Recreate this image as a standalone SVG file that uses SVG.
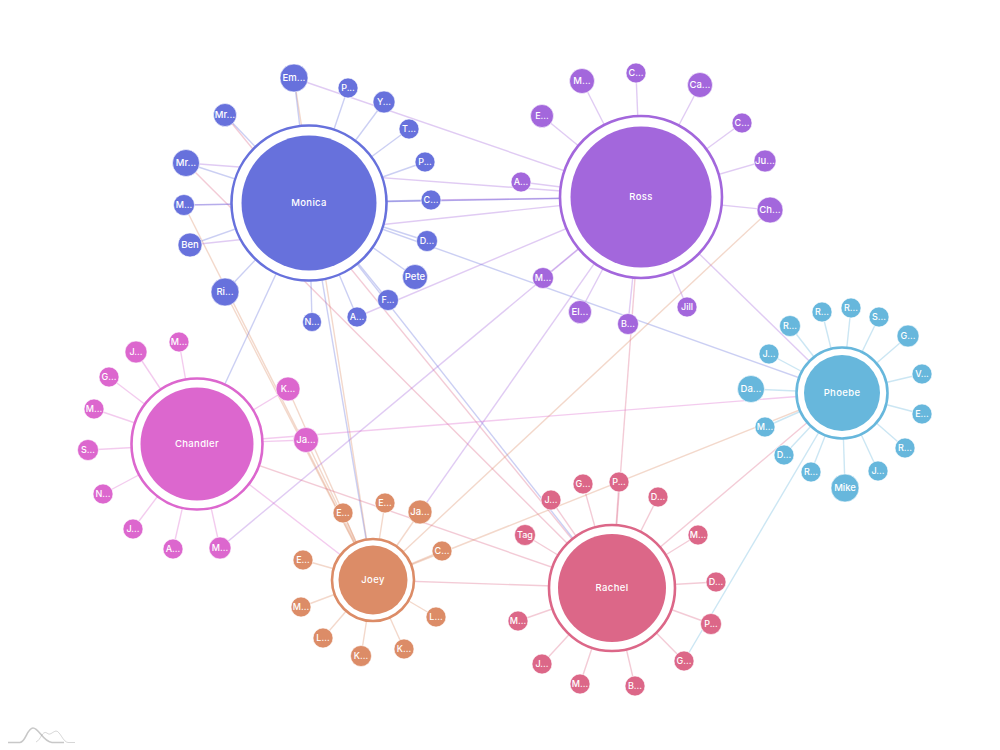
<svg xmlns="http://www.w3.org/2000/svg" width="1000" height="750" viewBox="0 0 1000 750">
<style>
text{font-family:"Inter","Liberation Sans",sans-serif;font-size:9.5px;font-weight:500;fill:#fff;text-anchor:middle;transform:translateY(-.7px)}
#monica text,#ross text,#chandler text,#joey text,#rachel text,#phoebe text{letter-spacing:.35px}
.k{font-size:9px}
line{stroke-width:1.4;stroke-opacity:.34;fill:none}
.lm{stroke:#6771dc}.lr{stroke:#a367dc}.lc{stroke:#dc67ce}.lj{stroke:#dc8c67}.lh{stroke:#dc6788}.lp{stroke:#67b7dc}
.fm{fill:#6771dc}.fr{fill:#a367dc}.fc{fill:#dc67ce}.fj{fill:#dc8c67}.fh{fill:#dc6788}.fp{fill:#67b7dc}
.s circle{stroke:#fff;stroke-opacity:.6;stroke-width:1}
.ring{fill:#fff;stroke-width:2.6}
.rm{stroke:#6771dc}.rr{stroke:#a367dc}.rc{stroke:#dc67ce}.rj{stroke:#dc8c67}.rh{stroke:#dc6788}.rp{stroke:#67b7dc}
</style>
<g id="connectors">
<line class="lr" x1="294" y1="78" x2="641" y2="197"/>
<line class="lj" x1="294" y1="78" x2="373" y2="580"/>
<line class="lh" x1="225" y1="115" x2="612" y2="588"/>
<line class="lr" x1="186" y1="163" x2="641" y2="197"/>
<line class="lh" x1="186" y1="163" x2="612" y2="588"/>
<line class="lj" x1="184" y1="205" x2="373" y2="580"/>
<line class="lr" x1="184" y1="205" x2="641" y2="197"/>
<line class="lr" x1="431" y1="200" x2="641" y2="197"/>
<line class="lr" x1="190" y1="245" x2="641" y2="197"/>
<line class="lj" x1="225" y1="292" x2="373" y2="580"/>
<line class="lj" x1="288" y1="389" x2="373" y2="580"/>
<line class="lj" x1="306" y1="440" x2="373" y2="580"/>
<line class="lr" x1="357" y1="317" x2="641" y2="197"/>
<line class="lm" x1="309" y1="203" x2="612" y2="588"/>
<line class="lm" x1="309" y1="203" x2="373" y2="580"/>
<line class="lm" x1="309" y1="203" x2="197" y2="444"/>
<line class="lm" x1="309" y1="203" x2="842" y2="393"/>
<line class="lm" x1="309" y1="203" x2="641" y2="197"/>
<line class="lr" x1="641" y1="197" x2="842" y2="393"/>
<line class="lr" x1="220" y1="548" x2="641" y2="197"/>
<line class="lr" x1="420" y1="512" x2="641" y2="197"/>
<line class="lh" x1="641" y1="197" x2="612" y2="588"/>
<line class="lj" x1="770" y1="210" x2="373" y2="580"/>
<line class="lh" x1="373" y1="580" x2="612" y2="588"/>
<line class="lh" x1="197" y1="444" x2="612" y2="588"/>
<line class="lc" x1="197" y1="444" x2="373" y2="580"/>
<line class="lc" x1="197" y1="444" x2="842" y2="393"/>
<line class="lj" x1="373" y1="580" x2="842" y2="393"/>
<line class="lh" x1="612" y1="588" x2="842" y2="393"/>
<line class="lp" x1="684" y1="661" x2="842" y2="393"/>
<line class="lm" x1="309" y1="203" x2="294" y2="78"/><line class="lm" x1="309" y1="203" x2="348" y2="88"/><line class="lm" x1="309" y1="203" x2="384" y2="102"/><line class="lm" x1="309" y1="203" x2="409" y2="129"/><line class="lm" x1="309" y1="203" x2="425" y2="162"/><line class="lm" x1="309" y1="203" x2="431" y2="200"/><line class="lm" x1="309" y1="203" x2="427" y2="241"/><line class="lm" x1="309" y1="203" x2="415" y2="277"/><line class="lm" x1="309" y1="203" x2="388" y2="300"/><line class="lm" x1="309" y1="203" x2="357" y2="317"/><line class="lm" x1="309" y1="203" x2="312" y2="322"/><line class="lm" x1="309" y1="203" x2="225" y2="292"/><line class="lm" x1="309" y1="203" x2="190" y2="245"/><line class="lm" x1="309" y1="203" x2="184" y2="205"/><line class="lm" x1="309" y1="203" x2="186" y2="163"/><line class="lm" x1="309" y1="203" x2="225" y2="115"/>
<line class="lr" x1="641" y1="197" x2="542" y2="116"/><line class="lr" x1="641" y1="197" x2="582" y2="81"/><line class="lr" x1="641" y1="197" x2="636" y2="73"/><line class="lr" x1="641" y1="197" x2="700" y2="85"/><line class="lr" x1="641" y1="197" x2="742" y2="123"/><line class="lr" x1="641" y1="197" x2="765" y2="161"/><line class="lr" x1="641" y1="197" x2="770" y2="210"/><line class="lr" x1="641" y1="197" x2="687" y2="307"/><line class="lr" x1="641" y1="197" x2="628" y2="324"/><line class="lr" x1="641" y1="197" x2="580" y2="312"/><line class="lr" x1="641" y1="197" x2="543" y2="278"/><line class="lr" x1="641" y1="197" x2="521" y2="182"/>
<line class="lc" x1="197" y1="444" x2="179" y2="342"/><line class="lc" x1="197" y1="444" x2="136" y2="352"/><line class="lc" x1="197" y1="444" x2="109" y2="377"/><line class="lc" x1="197" y1="444" x2="94" y2="409"/><line class="lc" x1="197" y1="444" x2="88" y2="450"/><line class="lc" x1="197" y1="444" x2="103" y2="494"/><line class="lc" x1="197" y1="444" x2="133" y2="529"/><line class="lc" x1="197" y1="444" x2="173" y2="549"/><line class="lc" x1="197" y1="444" x2="220" y2="548"/><line class="lc" x1="197" y1="444" x2="306" y2="440"/><line class="lc" x1="197" y1="444" x2="288" y2="389"/>
<line class="lj" x1="373" y1="580" x2="343" y2="513"/><line class="lj" x1="373" y1="580" x2="385" y2="503"/><line class="lj" x1="373" y1="580" x2="420" y2="512"/><line class="lj" x1="373" y1="580" x2="442" y2="551"/><line class="lj" x1="373" y1="580" x2="436" y2="617"/><line class="lj" x1="373" y1="580" x2="404" y2="649"/><line class="lj" x1="373" y1="580" x2="361" y2="656"/><line class="lj" x1="373" y1="580" x2="323" y2="638"/><line class="lj" x1="373" y1="580" x2="301" y2="607"/><line class="lj" x1="373" y1="580" x2="303" y2="560"/>
<line class="lh" x1="612" y1="588" x2="619" y2="482"/><line class="lh" x1="612" y1="588" x2="583" y2="484"/><line class="lh" x1="612" y1="588" x2="551" y2="500"/><line class="lh" x1="612" y1="588" x2="525" y2="535"/><line class="lh" x1="612" y1="588" x2="658" y2="497"/><line class="lh" x1="612" y1="588" x2="698" y2="535"/><line class="lh" x1="612" y1="588" x2="716" y2="582"/><line class="lh" x1="612" y1="588" x2="711" y2="624"/><line class="lh" x1="612" y1="588" x2="684" y2="661"/><line class="lh" x1="612" y1="588" x2="635" y2="686"/><line class="lh" x1="612" y1="588" x2="580" y2="684"/><line class="lh" x1="612" y1="588" x2="542" y2="664"/><line class="lh" x1="612" y1="588" x2="518" y2="621"/>
<line class="lp" x1="842" y1="393" x2="790" y2="326"/><line class="lp" x1="842" y1="393" x2="822" y2="312"/><line class="lp" x1="842" y1="393" x2="851" y2="308"/><line class="lp" x1="842" y1="393" x2="879" y2="317"/><line class="lp" x1="842" y1="393" x2="908" y2="336"/><line class="lp" x1="842" y1="393" x2="922" y2="374"/><line class="lp" x1="842" y1="393" x2="922" y2="414"/><line class="lp" x1="842" y1="393" x2="905" y2="448"/><line class="lp" x1="842" y1="393" x2="878" y2="471"/><line class="lp" x1="842" y1="393" x2="845" y2="488"/><line class="lp" x1="842" y1="393" x2="811" y2="472"/><line class="lp" x1="842" y1="393" x2="784" y2="455"/><line class="lp" x1="842" y1="393" x2="765" y2="427"/><line class="lp" x1="842" y1="393" x2="751" y2="389"/><line class="lp" x1="842" y1="393" x2="769" y2="354"/>
</g>
<g id="monica"><circle class="ring rm" cx="309" cy="203" r="77.5"/><circle class="fm" cx="309" cy="203" r="67.5"/><text x="309" y="206.5">Monica</text></g>
<g id="monica-children" class="s">
<g id="m1"><circle class="fm" cx="294" cy="78" r="14"/><text x="294" y="81.5">Em...</text></g>
<g id="m2"><circle class="fm" cx="348" cy="88" r="10"/><text class="k" x="348" y="91.5">P...</text></g>
<g id="m3"><circle class="fm" cx="384" cy="102" r="11"/><text class="k" x="384" y="105.5">Y...</text></g>
<g id="m4"><circle class="fm" cx="409" cy="129" r="10"/><text class="k" x="409" y="132.5">T...</text></g>
<g id="m5"><circle class="fm" cx="425" cy="162" r="10"/><text class="k" x="425" y="165.5">P...</text></g>
<g id="m6"><circle class="fm" cx="431" cy="200" r="10"/><text class="k" x="431" y="203.5">C...</text></g>
<g id="m7"><circle class="fm" cx="427" cy="241" r="10.5"/><text class="k" x="427" y="244.5">D...</text></g>
<g id="m8"><circle class="fm" cx="415" cy="277" r="12.5"/><text x="415" y="280.5">Pete</text></g>
<g id="m9"><circle class="fm" cx="388" cy="300" r="10.5"/><text class="k" x="388" y="303.5">F...</text></g>
<g id="m10"><circle class="fm" cx="357" cy="317" r="10"/><text class="k" x="357" y="320.5">A...</text></g>
<g id="m11"><circle class="fm" cx="312" cy="322" r="9.5"/><text class="k" x="312" y="325.5">N...</text></g>
<g id="m12"><circle class="fm" cx="225" cy="292" r="14"/><text x="225" y="295.5">Ri...</text></g>
<g id="m13"><circle class="fm" cx="190" cy="245" r="12"/><text x="190" y="248.5">Ben</text></g>
<g id="m14"><circle class="fm" cx="184" cy="205" r="10.5"/><text class="k" x="184" y="208.5">M...</text></g>
<g id="m15"><circle class="fm" cx="186" cy="163" r="13.5"/><text x="186" y="166.5">Mr...</text></g>
<g id="m16"><circle class="fm" cx="225" cy="115" r="11.5"/><text x="225" y="118.5">Mr...</text></g>
</g>
<g id="ross"><circle class="ring rr" cx="641" cy="197" r="81"/><circle class="fr" cx="641" cy="197" r="70.5"/><text x="641" y="200.5">Ross</text></g>
<g id="ross-children" class="s">
<g id="r1"><circle class="fr" cx="542" cy="116" r="11.5"/><text class="k" x="542" y="119.5">E...</text></g>
<g id="r2"><circle class="fr" cx="582" cy="81" r="12.5"/><text x="582" y="84.5">M...</text></g>
<g id="r3"><circle class="fr" cx="636" cy="73" r="10"/><text class="k" x="636" y="76.5">C...</text></g>
<g id="r4"><circle class="fr" cx="700" cy="85" r="12.5"/><text x="700" y="88.5">Ca...</text></g>
<g id="r5"><circle class="fr" cx="742" cy="123" r="10"/><text class="k" x="742" y="126.5">C...</text></g>
<g id="r6"><circle class="fr" cx="765" cy="161" r="11"/><text x="765" y="164.5">Ju...</text></g>
<g id="r7"><circle class="fr" cx="770" cy="210" r="13"/><text x="770" y="213.5">Ch...</text></g>
<g id="r8"><circle class="fr" cx="687" cy="307" r="10"/><text class="k" x="687" y="310.5">Jill</text></g>
<g id="r9"><circle class="fr" cx="628" cy="324" r="10.5"/><text class="k" x="628" y="327.5">B...</text></g>
<g id="r10"><circle class="fr" cx="580" cy="312" r="11.5"/><text x="580" y="315.5">El...</text></g>
<g id="r11"><circle class="fr" cx="543" cy="278" r="10.5"/><text class="k" x="543" y="281.5">M...</text></g>
<g id="r12"><circle class="fr" cx="521" cy="182" r="10"/><text class="k" x="521" y="185.5">A...</text></g>
</g>
<g id="chandler"><circle class="ring rc" cx="197" cy="444" r="65.5"/><circle class="fc" cx="197" cy="444" r="56.5"/><text x="197" y="447.5">Chandler</text></g>
<g id="chandler-children" class="s">
<g id="c1"><circle class="fc" cx="179" cy="342" r="10"/><text class="k" x="179" y="345.5">M...</text></g>
<g id="c2"><circle class="fc" cx="136" cy="352" r="11"/><text class="k" x="136" y="355.5">J...</text></g>
<g id="c3"><circle class="fc" cx="109" cy="377" r="10"/><text class="k" x="109" y="380.5">G...</text></g>
<g id="c4"><circle class="fc" cx="94" cy="409" r="10"/><text class="k" x="94" y="412.5">M...</text></g>
<g id="c5"><circle class="fc" cx="88" cy="450" r="10.5"/><text class="k" x="88" y="453.5">S...</text></g>
<g id="c6"><circle class="fc" cx="103" cy="494" r="10"/><text class="k" x="103" y="497.5">N...</text></g>
<g id="c7"><circle class="fc" cx="133" cy="529" r="10"/><text class="k" x="133" y="532.5">J...</text></g>
<g id="c8"><circle class="fc" cx="173" cy="549" r="10"/><text class="k" x="173" y="552.5">A...</text></g>
<g id="c9"><circle class="fc" cx="220" cy="548" r="11"/><text class="k" x="220" y="551.5">M...</text></g>
<g id="c10"><circle class="fc" cx="306" cy="440" r="12.5"/><text x="306" y="443.5">Ja...</text></g>
<g id="c11"><circle class="fc" cx="288" cy="389" r="12"/><text class="k" x="288" y="392.5">K...</text></g>
</g>
<g id="joey"><circle class="ring rj" cx="373" cy="580" r="41"/><circle class="fj" cx="373" cy="580" r="34.5"/><text x="373" y="583.5">Joey</text></g>
<g id="joey-children" class="s">
<g id="j1"><circle class="fj" cx="343" cy="513" r="10"/><text class="k" x="343" y="516.5">E...</text></g>
<g id="j2"><circle class="fj" cx="385" cy="503" r="10"/><text class="k" x="385" y="506.5">E...</text></g>
<g id="j3"><circle class="fj" cx="420" cy="512" r="12"/><text x="420" y="515.5">Ja...</text></g>
<g id="j4"><circle class="fj" cx="442" cy="551" r="10"/><text class="k" x="442" y="554.5">C...</text></g>
<g id="j5"><circle class="fj" cx="436" cy="617" r="10"/><text class="k" x="436" y="620.5">L...</text></g>
<g id="j6"><circle class="fj" cx="404" cy="649" r="10"/><text class="k" x="404" y="652.5">K...</text></g>
<g id="j7"><circle class="fj" cx="361" cy="656" r="10.5"/><text class="k" x="361" y="659.5">K...</text></g>
<g id="j8"><circle class="fj" cx="323" cy="638" r="10"/><text class="k" x="323" y="641.5">L...</text></g>
<g id="j9"><circle class="fj" cx="301" cy="607" r="10"/><text class="k" x="301" y="610.5">M...</text></g>
<g id="j10"><circle class="fj" cx="303" cy="560" r="10"/><text class="k" x="303" y="563.5">E...</text></g>
</g>
<g id="rachel"><circle class="ring rh" cx="612" cy="588" r="63"/><circle class="fh" cx="612" cy="588" r="54"/><text x="612" y="591.5">Rachel</text></g>
<g id="rachel-children" class="s">
<g id="h1"><circle class="fh" cx="619" cy="482" r="10"/><text class="k" x="619" y="485.5">P...</text></g>
<g id="h2"><circle class="fh" cx="583" cy="484" r="10"/><text class="k" x="583" y="487.5">G...</text></g>
<g id="h3"><circle class="fh" cx="551" cy="500" r="10"/><text class="k" x="551" y="503.5">J...</text></g>
<g id="h4"><circle class="fh" cx="525" cy="535" r="10.5"/><text class="k" x="525" y="538.5">Tag</text></g>
<g id="h5"><circle class="fh" cx="658" cy="497" r="10"/><text class="k" x="658" y="500.5">D...</text></g>
<g id="h6"><circle class="fh" cx="698" cy="535" r="10"/><text class="k" x="698" y="538.5">M...</text></g>
<g id="h7"><circle class="fh" cx="716" cy="582" r="10"/><text class="k" x="716" y="585.5">D...</text></g>
<g id="h8"><circle class="fh" cx="711" cy="624" r="10.5"/><text class="k" x="711" y="627.5">P...</text></g>
<g id="h9"><circle class="fh" cx="684" cy="661" r="10"/><text class="k" x="684" y="664.5">G...</text></g>
<g id="h10"><circle class="fh" cx="635" cy="686" r="10"/><text class="k" x="635" y="689.5">B...</text></g>
<g id="h11"><circle class="fh" cx="580" cy="684" r="10"/><text class="k" x="580" y="687.5">M...</text></g>
<g id="h12"><circle class="fh" cx="542" cy="664" r="10"/><text class="k" x="542" y="667.5">J...</text></g>
<g id="h13"><circle class="fh" cx="518" cy="621" r="10"/><text class="k" x="518" y="624.5">M...</text></g>
</g>
<g id="phoebe"><circle class="ring rp" cx="842" cy="393" r="45.5"/><circle class="fp" cx="842" cy="393" r="38"/><text x="842" y="396.5">Phoebe</text></g>
<g id="phoebe-children" class="s">
<g id="p1"><circle class="fp" cx="790" cy="326" r="10.5"/><text class="k" x="790" y="329.5">R...</text></g>
<g id="p2"><circle class="fp" cx="822" cy="312" r="10"/><text class="k" x="822" y="315.5">R...</text></g>
<g id="p3"><circle class="fp" cx="851" cy="308" r="10"/><text class="k" x="851" y="311.5">R...</text></g>
<g id="p4"><circle class="fp" cx="879" cy="317" r="10"/><text class="k" x="879" y="320.5">S...</text></g>
<g id="p5"><circle class="fp" cx="908" cy="336" r="11"/><text class="k" x="908" y="339.5">G...</text></g>
<g id="p6"><circle class="fp" cx="922" cy="374" r="10"/><text class="k" x="922" y="377.5">V...</text></g>
<g id="p7"><circle class="fp" cx="922" cy="414" r="10"/><text class="k" x="922" y="417.5">E...</text></g>
<g id="p8"><circle class="fp" cx="905" cy="448" r="10"/><text class="k" x="905" y="451.5">R...</text></g>
<g id="p9"><circle class="fp" cx="878" cy="471" r="10"/><text class="k" x="878" y="474.5">J...</text></g>
<g id="p10"><circle class="fp" cx="845" cy="488" r="14"/><text x="845" y="491.5">Mike</text></g>
<g id="p11"><circle class="fp" cx="811" cy="472" r="10"/><text class="k" x="811" y="475.5">R...</text></g>
<g id="p12"><circle class="fp" cx="784" cy="455" r="10"/><text class="k" x="784" y="458.5">D...</text></g>
<g id="p13"><circle class="fp" cx="765" cy="427" r="10"/><text class="k" x="765" y="430.5">M...</text></g>
<g id="p14"><circle class="fp" cx="751" cy="389" r="13.5"/><text x="751" y="392.5">Da...</text></g>
<g id="p15"><circle class="fp" cx="769" cy="354" r="10"/><text class="k" x="769" y="357.5">J...</text></g>
</g>
<g id="logo" fill="none" stroke="#9a9a9a" stroke-opacity=".55">
<path stroke-width="1.6" d="M8,742.5H20C26,742 27,728 33,728C39,728 43,742 52,742.5H64"/>
<path stroke-width="1" stroke-opacity=".4" d="M36,742C41,740 42,730 47,733C50,736 52,732 56,731C60,731 63,742 68,742.5H75"/>
</g>
</svg>
